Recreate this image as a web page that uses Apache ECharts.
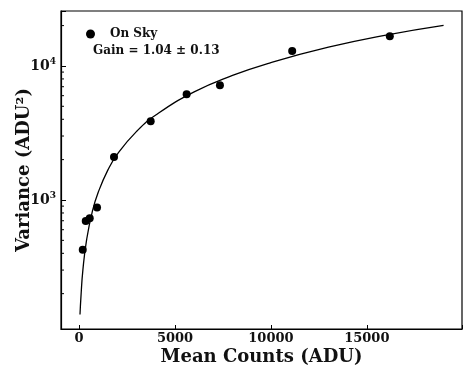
<!DOCTYPE html>
<html><head><meta charset="utf-8">
<script src="https://cdn.jsdelivr.net/npm/echarts@6/dist/echarts.min.js"></script>
<style>html,body{margin:0;padding:0;background:#fff}#c{width:474px;height:379px}</style>
</head><body><div id="c"></div>
<script>
// Measured points (On Sky)
const meanCounts = [193, 349, 557, 938, 1823, 3734, 5609, 7344, 11109, 16198];
const variance   = [426, 697, 730, 877, 2094, 3864, 6150, 7180, 12940, 16680];
// Fit curve
const fitX = [50, 100, 200, 400, 700, 1000, 1500, 2000, 3000, 4000, 6000, 8000, 10000, 13000, 16000, 19000];
const fitY = [140, 190, 300, 510, 830, 1140, 1670, 2200, 3250, 4300, 6400, 8500, 10600, 13800, 17000, 20100];
// Minor tick values on the log axis
const minorTicks = [200, 300, 400, 500, 600, 700, 800, 900, 2000, 3000, 4000, 5000, 6000, 7000, 8000, 9000, 20000];
const xTickLabels = [0, 5000, 10000, 15000];
const gainText = 'Gain = 1.04 \u00b1 0.13';

const X_MIN = -940, X_MAX = 19960, Y_MIN = 109, Y_MAX = 25700;
const FONT = 'DejaVu Serif';

const chart = echarts.init(document.getElementById('c'), null, {renderer: 'canvas'});
chart.setOption({
  animation: false,
  backgroundColor: '#fff',
  grid: {left: 61, right: 12, top: 11, bottom: 50, show: true, borderColor: '#000', borderWidth: 1.2,
         backgroundColor: 'transparent', containLabel: false, outerBoundsMode: 'none'},
  legend: {
    data: ['On Sky'], left: 81, top: 23, icon: 'circle', itemWidth: 9, itemHeight: 9,
    textStyle: {fontFamily: FONT, fontWeight: 'bold', fontSize: 12, color: '#111', padding: [0, 0, 0, 10]}
  },
  graphic: [{
    type: 'text', left: 93, top: 45,
    style: {text: gainText, fontFamily: FONT, fontWeight: 'bold', fontSize: 12, fill: '#111'}
  }],
  xAxis: {
    type: 'value', min: X_MIN, max: X_MAX, splitNumber: 5,
    name: 'Mean Counts (ADU)', nameLocation: 'middle', nameGap: 19, nameMoveOverlap: false,
    nameTextStyle: {fontFamily: FONT, fontWeight: 'bold', fontSize: 18, color: '#111'},
    axisLine: {onZero: false, lineStyle: {color: '#000', width: 1.2}},
    axisTick: {inside: true, length: 4, lineStyle: {color: '#000'}},
    splitLine: {show: false},
    axisLabel: {
      fontFamily: FONT, fontWeight: 'bold', fontSize: 13, color: '#111', margin: 3,
      formatter: v => xTickLabels.includes(v) ? String(v) : ''
    }
  },
  yAxis: {
    type: 'log', logBase: 10, min: Y_MIN, max: Y_MAX,
    name: 'Variance (ADU\u00b2)', nameLocation: 'middle', nameGap: 28, nameMoveOverlap: false,
    nameTextStyle: {fontFamily: FONT, fontWeight: 'bold', fontSize: 18, color: '#111'},
    axisLine: {onZero: false, lineStyle: {color: '#000', width: 1.2}},
    axisTick: {inside: true, length: 5, lineStyle: {color: '#000'}},
    splitLine: {show: false},
    axisLabel: {
      margin: 5,
      formatter: v => {
        const e = Math.log10(v);
        if (Math.abs(e - Math.round(e)) > 1e-6) return '';
        return '{b|10}{s|' + Math.round(e) + '}';
      },
      rich: {
        b: {fontFamily: FONT, fontWeight: 'bold', fontSize: 14, color: '#111'},
        s: {fontFamily: FONT, fontWeight: 'bold', fontSize: 9, color: '#111', verticalAlign: 'bottom', padding: [0, 0, 8, 0]}
      }
    }
  },
  series: [
    {
      name: 'fit', type: 'line', smooth: true, showSymbol: false, symbol: 'none',
      data: fitX.map((x, i) => [x, fitY[i]]),
      lineStyle: {color: '#000', width: 1.3}, z: 3
    },
    {
      name: 'On Sky', type: 'scatter', symbolSize: 8,
      data: meanCounts.map((x, i) => [x, variance[i]]),
      itemStyle: {color: '#000', opacity: 1}, z: 4
    },
    {
      name: 'minor', type: 'custom', silent: true,
      data: minorTicks.map(v => [X_MIN, v]),
      renderItem: (params, api) => {
        const p = api.coord([X_MIN, api.value(1)]);
        return {type: 'line', shape: {x1: p[0], y1: p[1], x2: p[0] + 3, y2: p[1]}, style: {stroke: '#000', lineWidth: 1}};
      }, z: 5
    }
  ]
});
</script></body></html>
